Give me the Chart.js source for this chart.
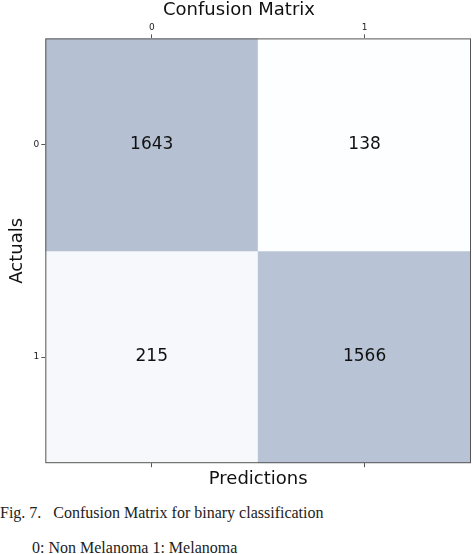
<!DOCTYPE html>
<html>
<head>
<meta charset="utf-8">
<script src="https://cdn.jsdelivr.net/npm/chart.js@4.4.0/dist/chart.umd.min.js"></script>
<style>
  body { margin: 0; background: #fff; }
  #wrap { width: 474px; height: 490px; position: relative; }
  .cap { font-family: "Liberation Serif", "Times New Roman", serif; font-size: 16px; line-height: 17px; color: #222; white-space: pre; }
</style>
</head>
<body>
<div id="wrap"><canvas id="cm"></canvas></div>
<div class="cap" style="margin:14px 0 0 0">Fig. 7.   Confusion Matrix for binary classification</div>
<div class="cap" style="margin:18px 0 0 32px">0: Non Melanoma 1: Melanoma</div>
<script>
// confusion matrix: rows = actuals, cols = predictions
const xLabels = ['0', '1']
const yLabels = ['0', '1']
const row0 = [1643, 138]
const row1 = [215, 1566]
const rows = [row0, row1]

const lo = Math.min(...row0, ...row1)
const hi = Math.max(...row0, ...row1)

// Blues colormap at alpha 0.3 over white, roughly
function cellColor (v) {
  var t = (v - lo) / (hi - lo)
  var a = [253, 254, 255], b = [181, 193, 211]
  var c = a.map((x, i) => Math.round(x + (b[i] - x) * Math.pow(t, 0.8)))
  return 'rgb(' + c.join(',') + ')'
}

const datasets = rows.map((r, i) => ({
  label: 'Actual ' + yLabels[i],
  data: r.map(() => [i, i + 1]),
  counts: r,
  backgroundColor: r.map(cellColor),
  borderWidth: 0,
  barPercentage: 1,
  categoryPercentage: 1,
  xAxisID: 'x',
  yAxisID: 'y'
}))

const cellText = {
  id: 'cellText',
  afterDatasetsDraw (chart) {
    const ctx = chart.ctx
    ctx.save()
    ctx.font = '17px "DejaVu Sans"'
    ctx.fillStyle = '#111'
    ctx.textAlign = 'center'
    ctx.textBaseline = 'middle'
    chart.data.datasets.forEach((ds, i) => {
      chart.getDatasetMeta(i).data.forEach((bar, j) => {
        const p = bar.getCenterPoint()
        ctx.fillText(ds.counts[j], p.x, p.y)
      })
    })
    const a = chart.chartArea
    ctx.strokeStyle = '#555'
    ctx.lineWidth = 1
    ctx.strokeRect(a.left + 0.5, a.top + 0.5, a.right - a.left - 1, a.bottom - a.top - 1)
    ctx.restore()
  }
}

new Chart(document.getElementById('cm'), {
  type: 'bar',
  data: { labels: xLabels, datasets: datasets },
  plugins: [cellText],
  options: {
    responsive: true,
    maintainAspectRatio: false,
    animation: false,
    layout: { padding: { left: 7, right: 3, top: 0, bottom: 0 } },
    plugins: {
      legend: { display: false },
      tooltip: { enabled: false },
      title: {
        display: true,
        text: 'Confusion Matrix',
        color: '#111',
        font: { family: 'DejaVu Sans', size: 18, weight: 'normal' },
        padding: { top: 0, bottom: 0 }
      }
    },
    scales: {
      x: {
        type: 'category',
        position: 'top',
        stacked: true,
        offset: true,
        grid: { offset: false, drawOnChartArea: false, tickLength: 4, color: '#555' },
        border: { display: false },
        ticks: { color: '#222', font: { family: 'DejaVu Sans', size: 9 }, padding: 1, maxRotation: 0 }
      },
      x2: {
        type: 'category',
        position: 'bottom',
        labels: xLabels,
        offset: true,
        grid: { offset: false, drawOnChartArea: false, tickLength: 4, color: '#555' },
        border: { display: false },
        ticks: { callback: () => '', padding: 0, font: { size: 1 } },
        title: {
          display: true,
          text: 'Predictions',
          color: '#111',
          font: { family: 'DejaVu Sans', size: 18 },
          padding: { top: 0, bottom: 0 }
        }
      },
      y: {
        type: 'linear',
        min: 0,
        max: 2,
        reverse: true,
        afterBuildTicks: axis => { axis.ticks = yLabels.map((l, i) => ({ value: i + 0.5 })) },
        grid: { drawOnChartArea: false, tickLength: 4, color: '#555' },
        border: { display: false },
        ticks: {
          color: '#222',
          font: { family: 'DejaVu Sans', size: 9 },
          padding: 2,
          callback: v => yLabels[Math.floor(v)]
        },
        title: {
          display: true,
          text: 'Actuals',
          color: '#111',
          font: { family: 'DejaVu Sans', size: 18 },
          padding: { top: 0, bottom: 3 }
        }
      }
    }
  }
})
</script>
</body>
</html>
